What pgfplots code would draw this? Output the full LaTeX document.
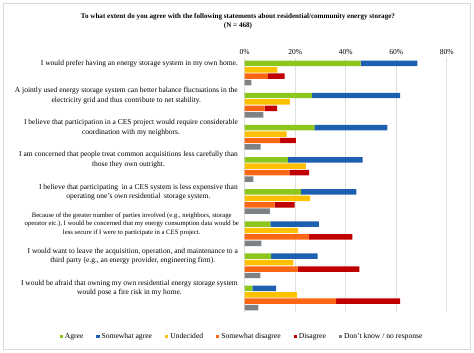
\documentclass[border=0pt]{standalone}
\usepackage{fontspec}
\setmainfont{Liberation Serif}
\usepackage{pgfplots}
\usepackage{pgfplotstable}
\pgfplotsset{compat=1.18}
\definecolor{cAgree}{RGB}{140,198,30}
\definecolor{cSA}{RGB}{30,96,176}
\definecolor{cUnd}{RGB}{255,192,0}
\definecolor{cSD}{RGB}{250,102,20}
\definecolor{cDis}{RGB}{192,0,0}
\definecolor{cDK}{RGB}{125,130,135}
\pgfplotstableread{
y agree sa und sd dis dk
0 45.9 22.5 0 0 0 0
1 0 0 12.9 0 0 0
2 0 0 0 9.2 6.6 0
3 0 0 0 0 0 2.6
5 26.7 34.9 0 0 0 0
6 0 0 17.9 0 0 0
7 0 0 0 7.9 4.9 0
8 0 0 0 0 0 7.4
10 27.6 28.9 0 0 0 0
11 0 0 16.6 0 0 0
12 0 0 0 14.0 6.3 0
13 0 0 0 0 0 6.3
15 17.1 29.6 0 0 0 0
16 0 0 24.2 0 0 0
17 0 0 0 17.7 7.8 0
18 0 0 0 0 0 3.4
20 22.2 22.0 0 0 0 0
21 0 0 25.9 0 0 0
22 0 0 0 11.9 7.9 0
23 0 0 0 0 0 10.0
25 10.2 19.2 0 0 0 0
26 0 0 21.2 0 0 0
27 0 0 0 25.5 17.1 0
28 0 0 0 0 0 6.6
30 10.5 18.4 0 0 0 0
31 0 0 19.3 0 0 0
32 0 0 0 21.0 24.4 0
33 0 0 0 0 0 6.2
35 3.0 9.4 0 0 0 0
36 0 0 20.7 0 0 0
37 0 0 0 36.2 25.4 0
38 0 0 0 0 0 5.4
}\datatable
\begin{document}
\begin{tikzpicture}
\path (0pt,0pt) rectangle (474pt,-353pt);
\draw[gray!30, line width=0.6pt] (3pt,-3pt) rectangle (470.5pt,-349.5pt);
\node[font=\bfseries\fontsize{7.1}{8.6}\selectfont, align=center] at (238pt,-21pt)
  {To what extent do you agree with the following statements about residential/community energy storage?\\(N = 468)};
\begin{axis}[
  at={(244.7pt,-58.2pt)}, anchor=north west,
  scale only axis, width=202pt, height=253.3pt,
  xmin=0, xmax=80, ymin=-0.8, ymax=38.6,
  y dir=reverse,
  xbar stacked, bar width=0.85,
  axis line style={draw=none},
  tick style={draw=none},
  xtick={0,20,40,60,80},
  xticklabels={0\%,20\%,40\%,60\%,80\%},
  xticklabel pos=upper,
  xticklabel style={font=\fontsize{7.5}{9}\selectfont},
  ytick=\empty,
  xmajorgrids, grid style={gray!25, line width=0.5pt},
  clip=false,
  legend columns=6,
  legend style={at={(-0.013,-0.1)}, anchor=center, draw=none, fill=none,
    font=\fontsize{7.6}{9}\selectfont,
    /tikz/every even column/.append style={column sep=11pt}},
  legend image code/.code={\fill[#1] (0pt,-1.6pt) rectangle (3.2pt,1.6pt);},
]
\addplot[fill=cAgree, draw=none] table[x=agree, y=y] {\datatable};
\addplot[fill=cSA, draw=none] table[x=sa, y=y] {\datatable};
\addplot[fill=cUnd, draw=none] table[x=und, y=y] {\datatable};
\addplot[fill=cSD, draw=none] table[x=sd, y=y] {\datatable};
\addplot[fill=cDis, draw=none] table[x=dis, y=y] {\datatable};
\addplot[fill=cDK, draw=none] table[x=dk, y=y] {\datatable};
\legend{Agree, Somewhat agree, Undecided, Somewhat disagree, Disagree, Don't know / no response}
\coordinate (L1) at (axis cs:0,0);
\coordinate (L2) at (axis cs:0,5);
\coordinate (L3) at (axis cs:0,10);
\coordinate (L4) at (axis cs:0,15);
\coordinate (L5) at (axis cs:0,20);
\coordinate (L6) at (axis cs:0,25);
\coordinate (L7) at (axis cs:0,30);
\coordinate (L8) at (axis cs:0,35);
\end{axis}
\tikzset{lab/.style={anchor=east, align=center, inner sep=0pt, xshift=-6.7pt, font=\fontsize{7.5}{9.4}\selectfont}}
\node[lab] at (L1) {I would prefer having an energy storage system in my own home.};
\node[lab] at (L2) {A jointly used energy storage system can better balance fluctuations in the\\electricity grid and thus contribute to net stability.};
\node[lab] at (L3) {I believe that participation in a CES project would require considerable\\coordination with my neighbors.};
\node[lab] at (L4) {I am concerned that people treat common acquisitions less carefully than\\those they own outright.};
\node[lab] at (L5) {I believe that participating \ in a CES system is less expensive than\\operating one's own residential \ storage system.};
\node[lab, font=\fontsize{6.7}{8.3}\selectfont, xshift=1pt] at (L6) {Because of the greater number of parties involved (e.g., neighbors, storage\\operator etc.), I would be concerned that my energy consumption data would be\\less secure if I were to participate in a CES project.};
\node[lab] at (L7) {I would want to leave the acquisition, operation, and maintenance to a\\third party (e.g., an energy provider, engineering firm).};
\node[lab] at (L8) {I would be afraid that owning my own residential energy storage system\\would pose a fire risk in my home.};
\end{tikzpicture}
\end{document}
